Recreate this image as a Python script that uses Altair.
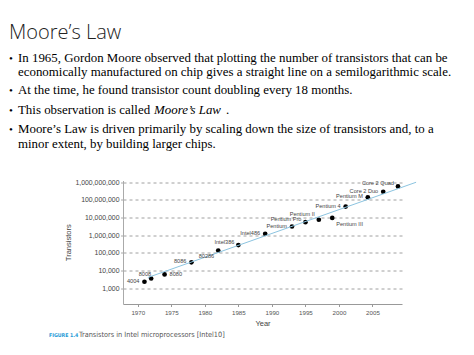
import altair as alt
import pandas as pd

# ---- data ----
chips = ["4004", "8008", "8080", "8086", "80286", "Intel386", "Intel486", "Pentium",
         "Pentium Pro", "Pentium II", "Pentium III", "Pentium 4", "Pentium M",
         "Core 2 Duo", "Core 2 Quad"]
years = [1971, 1972, 1974, 1978, 1982, 1985, 1989, 1993, 1995, 1997, 1999, 2001, 2004.3, 2006.6, 2008.8]
transistors = [2300, 3500, 6000, 29000, 134000, 275000, 1200000, 3100000, 5500000,
               7500000, 9500000, 42000000, 140000000, 291000000, 582000000]
trend_years = [1971.5, 2011.5]
trend_counts = [4000, 1000000000]
y_ticks = [1000, 10000, 100000, 1000000, 10000000, 100000000, 1000000000]
x_ticks = [1970, 1975, 1980, 1985, 1990, 1995, 2000, 2005]

slide_title = "Moore\u2019s Law"
bullet_lines = [
    "In 1965, Gordon Moore observed that plotting the number of transistors that can be",
    "economically manufactured on chip gives a straight line on a semilogarithmic scale.",
    "At the time, he found transistor count doubling every 18 months.",
    "This observation is called ",
    "Moore\u2019s Law is driven primarily by scaling down the size of transistors and, to a",
    "minor extent, by building larger chips.",
]
italic_part = "Moore\u2019s Law"
caption_head = "FIGURE 1.4"
caption_text = "Transistors in Intel microprocessors [Intel10]"

df = pd.DataFrame({"chip": chips, "year": years, "count": transistors})
trend = pd.DataFrame({"year": trend_years, "count": trend_counts})

# plot-area geometry (image px): x 123..402, y 180.5..304
W, H = 279, 123.5
OX, OY = 123, 180.5

xs = alt.Scale(domain=[1967.8, 2009.4], nice=False, zero=False)
ys = alt.Scale(type="log", domain=[125.9, 1258925412], nice=False)

x_enc = alt.X("year:Q", scale=xs, title="Year",
              axis=alt.Axis(values=x_ticks, format="d", grid=False, labelFontSize=6.2,
                            labelColor="#555", titleFontSize=7.5, titleColor="#444",
                            titleFontWeight="normal", domainColor="#999", tickColor="#999",
                            tickSize=2.5, labelPadding=3, titlePadding=4, titleFont="Liberation Sans",
                            labelFont="Liberation Sans", labelOverlap=False, labelFlush=False))
y_enc = alt.Y("count:Q", scale=ys, title="Transistors",
              axis=alt.Axis(values=y_ticks, format=",", grid=True, gridDash=[3, 3],
                            gridColor="#888", gridWidth=0.8, labelFontSize=6.9, labelColor="#444",
                            titleFontSize=7.5, titleColor="#444", titleFontWeight="normal",
                            domainColor="#aaa", tickColor="#aaa", tickSize=2.5, labelPadding=1.5,
                            titlePadding=2, labelOverlap=False,
                            titleFont="Liberation Sans", labelFont="Liberation Sans"))

points = alt.Chart(df).mark_circle(color="black", size=22, opacity=1).encode(x=x_enc, y=y_enc)

line = alt.Chart(trend).mark_line(color="#8cc4e0", strokeWidth=1, clip=False).encode(
    x=x_enc, y=y_enc)


def labels(names, dx, dy, align):
    return alt.Chart(df).transform_filter(
        alt.FieldOneOfPredicate(field="chip", oneOf=names)
    ).mark_text(fontSize=5.6, color="#444", dx=dx, dy=dy, align=align, baseline="middle",
                font="Liberation Sans").encode(x=x_enc, y=y_enc, text="chip:N")


lab_layers = [
    labels(["4004", "8086", "Intel486", "Pentium", "Pentium 4", "Pentium M", "Core 2 Duo"], -5, -1, "right"),
    labels(["Intel386", "Pentium Pro", "Core 2 Quad"], -4, -3, "right"),
    labels(["Pentium II"], -4, -6, "right"),
    labels(["8008"], 0, -5, "right"),
    labels(["80286"], -4, 5, "right"),
    labels(["8080"], 5, 0, "left"),
    labels(["Pentium III"], 4, 6, "left"),
]

# slide text (positions in plot-area px)
def txt(s, x, y, size, font, color="black", style="normal", weight="normal", align="left"):
    return alt.Chart(pd.DataFrame({"t": [s]})).mark_text(
        fontSize=size, font=font, color=color, fontStyle=style, fontWeight=weight,
        align=align, baseline="alphabetic").encode(
        x=alt.value(x - OX), y=alt.value(y - OY), text="t:N")

serif = "Liberation Serif"
fs = 12.9
text_layers = [txt(slide_title, 9, 39, 20, "Open Sans", color="#222", weight=300)]
baselines = [61.5, 75.5, 94, 114, 133, 147.5]
bullet_rows = [0, 2, 3, 4]
for i, (s, b) in enumerate(zip(bullet_lines, baselines)):
    text_layers.append(txt(s, 18, b, fs, serif))
for i in bullet_rows:
    text_layers.append(txt("\u2022", 9, baselines[i], 11, serif))
text_layers.append(txt(italic_part, 154, baselines[3], fs, serif, style="italic"))
text_layers.append(txt(".", 226, baselines[3], fs, serif))
cap_font = "Liberation Sans Narrow, DejaVu Sans Condensed, Liberation Sans"
text_layers.append(txt(caption_head, 49, 337, 5.2, cap_font, color="#1e9ad6", weight="bold"))
text_layers.append(txt(caption_text, 79, 337, 7.3, cap_font, color="#555"))

chart = alt.layer(points, line, *lab_layers, *text_layers).properties(
    width=W, height=H,
    autosize=alt.AutoSizeParams(type="none"),
    padding={"left": OX - 8, "top": OY - 8, "right": 458 - (OX - 8) - W, "bottom": 339 - (OY - 8) - H},
    background="white",
).configure_view(stroke=None)

chart.save("out.html", embed_options={"renderer": "svg", "actions": False})
